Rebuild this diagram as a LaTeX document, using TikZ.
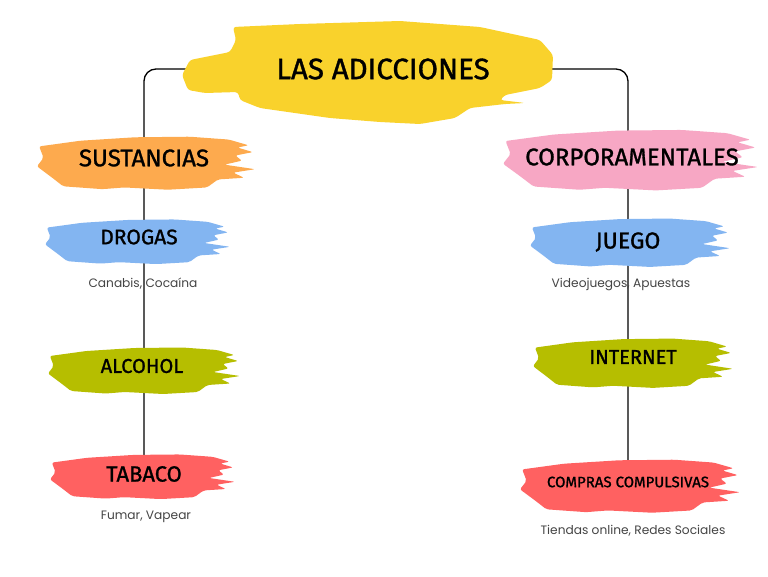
\documentclass[tikz,border=0pt]{standalone}
\usepackage{fontspec}
\setmainfont{Fira Sans}
\newfontfamily\headfont[FakeBold=1.2]{Fira Sans}
\newfontfamily\subfont{Poppins}
\pgfdeclarelayer{bg}
\pgfdeclarelayer{mid}
\pgfsetlayers{bg,mid,main}
\definecolor{cyellow}{HTML}{F9D22C}
\definecolor{corange}{HTML}{FDAA4E}
\definecolor{cblue}{HTML}{83B5F1}
\definecolor{colive}{HTML}{B6BE00}
\definecolor{cred}{HTML}{FF6161}
\definecolor{cpink}{HTML}{F7A7C4}
\definecolor{subgray}{HTML}{444444}
\tikzset{
  paint/.pic={
    \fill[pic actions, rounded corners=2pt]
      (0.01,0.20) -- (0.20,0.10) -- (0.45,0.04) -- (0.70,0.03) -- (0.88,0.08)
      -- (0.97,0.18) -- (0.92,0.22) -- (0.99,0.30) -- (0.91,0.36) -- (0.94,0.45)
      -- (0.86,0.52) -- (1.00,0.60) -- (0.90,0.66) -- (0.95,0.75) -- (0.83,0.78)
      -- (0.78,0.92) -- (0.60,0.96) -- (0.40,0.92) -- (0.30,0.95) -- (0.12,0.90)
      -- (0.07,0.75) -- (0.00,0.55) -- (0.03,0.40) -- cycle;
  },
  head/.style={text=black, inner sep=0pt},
  sublabel/.style={font=\subfont\fontsize{12.2}{14}\selectfont, text=subgray, inner sep=0pt},
  link/.style={draw=black, line width=1.3pt, rounded corners=12pt}
}
\newcommand\paintat[5]{%
  \begin{scope}[shift={(#1,#2)}, x=#3pt, y=-#4pt]
    \pic[fill=#5] {paint};
  \end{scope}}
\newcommand\hf[1]{\headfont\fontsize{#1}{#1}\selectfont}
\begin{document}
\begin{tikzpicture}[x=1pt,y=-1pt]
\useasboundingbox (0,0) rectangle (768,576);
\begin{pgfonlayer}{bg}
\fill[white] (0,0) rectangle (768,576);
\end{pgfonlayer}
\begin{pgfonlayer}{mid}
  % title blob
  \fill[cyellow, rounded corners=3pt]
    (233,27) -- (300,24) -- (400,21) -- (480,27) -- (540,40) -- (553,55)
    -- (552,80) -- (540,88) -- (505,95) -- (500,100) -- (525,103) -- (505,104)
    -- (470,108) -- (455,118) -- (420,124) -- (380,122) -- (330,118) -- (260,108)
    -- (240,100) -- (238,92) -- (205,93) -- (188,90) -- (182,75) -- (190,60)
    -- (230,52) -- (236,40) -- cycle;
  \paintat{37}{135}{218}{57}{corange}
  \paintat{45}{218}{185}{48}{cblue}
  \paintat{48}{346}{192}{50}{colive}
  \paintat{50}{453}{185}{48}{cred}
  \paintat{503}{128}{255}{65}{cpink}
  \paintat{530}{217}{200}{52}{cblue}
  \paintat{533}{337}{200}{53}{colive}
  \paintat{520}{458}{220}{57}{cred}
\end{pgfonlayer}

\node[head, font=\hf{29.5}] (title) at (383,69) {LAS ADICCIONES};
\node[head, font=\hf{24}] (sust) at (144,158) {SUSTANCIAS};
\node[head, font=\hf{21}] (drogas) at (139,237) {DROGAS};
\node[sublabel] (drogasub) at (143,284) {Canabis, Cocaína};
\node[head, font=\hf{20}] (alcohol) at (142,366) {ALCOHOL};
\node[head, font=\hf{22}] (tabaco) at (144,474) {TABACO};
\node[sublabel] (tabacosub) at (146,517) {Fumar, Vapear};
\node[head, font=\hf{24}] (corp) at (632,157) {CORPORAMENTALES};
\node[head, font=\hf{23}] (juego) at (628,242) {JUEGO};
\node[sublabel] (juegosub) at (621,284) {Videojuegos, Apuestas};
\node[head, font=\hf{20}] (internet) at (633,357) {INTERNET};
\node[head, font=\hf{15}] (compras) at (628,482) {COMPRAS COMPULSIVAS};
\node[sublabel] (comprassub) at (633,531) {Tiendas online, Redes Sociales};

\begin{pgfonlayer}{bg}
  \draw[link] (title) -| (tabaco);
  \draw[link] (title) -| (compras);
\end{pgfonlayer}
\end{tikzpicture}
\end{document}
